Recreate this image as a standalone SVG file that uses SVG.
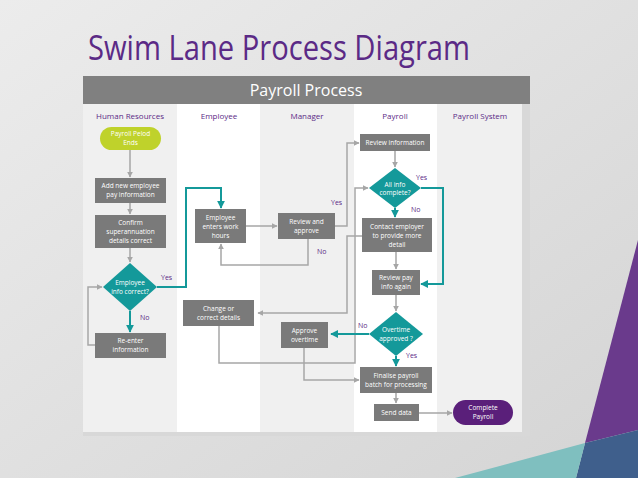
<svg xmlns="http://www.w3.org/2000/svg" width="638" height="478" viewBox="0 0 638 478">
<defs>
<linearGradient id="bg" x1="0" y1="0" x2="1" y2="1"><stop offset="0" stop-color="#ececec"/><stop offset="1" stop-color="#d4d4d4"/></linearGradient>
<marker id="ag" viewBox="0 0 10 10" refX="9" refY="5" markerWidth="4" markerHeight="4" orient="auto"><path d="M0,0L10,5L0,10z" fill="#a6a6a6"/></marker>
<marker id="at" viewBox="0 0 10 10" refX="9" refY="5" markerWidth="4" markerHeight="4" orient="auto"><path d="M0,0L10,5L0,10z" fill="#14999a"/></marker>
</defs>
<style>
.b{fill:#7a7a7a}
.d{fill:#14999a}
.t{font-family:"Open Sans","Liberation Sans",sans-serif;font-size:6.5px;fill:#fff;text-anchor:middle}
.lh{font-family:"Open Sans","Liberation Sans",sans-serif;font-size:8px;fill:#5b2a86;text-anchor:middle}
.lb{font-family:"Open Sans","Liberation Sans",sans-serif;font-size:7px;fill:#5b2a86}
.g{fill:none;stroke:#a6a6a6;stroke-width:1.5;marker-end:url(#ag)}
.c{fill:none;stroke:#14999a;stroke-width:2;marker-end:url(#at)}
</style>
<rect width="638" height="478" fill="url(#bg)"/>
<polygon points="638,240 585,443 638,430" fill="#6a3a8c"/>
<polygon points="585,443 638,430 638,478 576,478" fill="#3f5f8c"/>
<polygon points="455,478 585,443 576,478" fill="#7fbfbf"/>
<text x="88" y="60" font-family="Open Sans, Liberation Sans, sans-serif" font-size="34" fill="#5b2a86" textLength="382" lengthAdjust="spacingAndGlyphs">Swim Lane Process Diagram</text>
<rect x="83" y="76" width="447" height="360" fill="#d8d8d8"/>
<rect x="83" y="76" width="447" height="28" fill="#808080"/>
<text x="306" y="96" font-family="Open Sans, Liberation Sans, sans-serif" font-size="16" fill="#fff" text-anchor="middle">Payroll Process</text>
<rect x="83" y="104" width="94" height="328" fill="#f0f0f0"/>
<rect x="177" y="104" width="83" height="328" fill="#ffffff"/>
<rect x="260" y="104" width="94" height="328" fill="#f0f0f0"/>
<rect x="354" y="104" width="83" height="328" fill="#ffffff"/>
<rect x="437" y="104" width="85" height="328" fill="#f0f0f0"/>
<g id="lanes">
<text class="lh" x="130" y="119">Human Resources</text>
<text class="lh" x="219" y="119">Employee</text>
<text class="lh" x="307" y="119">Manager</text>
<text class="lh" x="395" y="119">Payroll</text>
<text class="lh" x="480" y="119">Payroll System</text>
</g>
<g id="connectors">
<path class="g" d="M130,150V177"/>
<path class="g" d="M130,203V214"/>
<path class="g" d="M130,248V262"/>
<path class="c" d="M157,287H186V188H221V208"/>
<path class="c" d="M130,311V332"/>
<path class="g" d="M95,345H88V287H102"/>
<path class="g" d="M246,226H277"/>
<path class="g" d="M335,226H347V143H359"/>
<path class="g" d="M308,239V265H221V244"/>
<path class="g" d="M362,236H347V313H258"/>
<path class="g" d="M219,326V363H355V188H368"/>
<path class="g" d="M395,151V167"/>
<path class="c" d="M395,208V217"/>
<path class="c" d="M421,188H443V284H421"/>
<path class="g" d="M396,252V269"/>
<path class="g" d="M396,295V311"/>
<path class="c" d="M369,334H331"/>
<path class="c" d="M396,356V366"/>
<path class="g" d="M304,348V380H359"/>
<path class="g" d="M396,393V403"/>
<path class="g" d="M419,413H452"/>
<text class="lb" x="161" y="280">Yes</text>
<text class="lb" x="140" y="320">No</text>
<text class="lb" x="331" y="205">Yes</text>
<text class="lb" x="317" y="254">No</text>
<text class="lb" x="416" y="180">Yes</text>
<text class="lb" x="411" y="212">No</text>
<text class="lb" x="358" y="328">No</text>
<text class="lb" x="406" y="358">Yes</text>
</g>
<g id="n1"><rect x="100" y="127" width="61" height="23" rx="11.5" fill="#bfd22b"/><text class="t" x="130.5" y="136">Payroll Pelod</text><text class="t" x="130.5" y="145">Ends</text></g>
<g id="n2"><rect class="b" x="95" y="178" width="71" height="25"/><text class="t" x="130.5" y="188">Add new employee</text><text class="t" x="130.5" y="197">pay information</text></g>
<g id="n3"><rect class="b" x="95" y="215" width="71" height="33"/><text class="t" x="130.5" y="225">Confirm</text><text class="t" x="130.5" y="234">superannuation</text><text class="t" x="130.5" y="243">details correct</text></g>
<g id="n4"><polygon class="d" points="130,263 157,287 130,311 103,287"/><text class="t" x="130" y="285">Employee</text><text class="t" x="130" y="294">info correct?</text></g>
<g id="n5"><rect class="b" x="95" y="333" width="71" height="25"/><text class="t" x="130.5" y="343">Re-enter</text><text class="t" x="130.5" y="352">information</text></g>
<g id="n6"><rect class="b" x="195" y="209" width="51" height="34"/><text class="t" x="220.5" y="220">Employee</text><text class="t" x="220.5" y="229">enters work</text><text class="t" x="220.5" y="238">hours</text></g>
<g id="n7"><rect class="b" x="278" y="213" width="57" height="26"/><text class="t" x="306.5" y="224">Review and</text><text class="t" x="306.5" y="233">approve</text></g>
<g id="n8"><rect class="b" x="360" y="134" width="70" height="17"/><text class="t" x="395" y="145">Review information</text></g>
<g id="n9"><polygon class="d" points="395,168 421,188 395,208 369,188"/><text class="t" x="395" y="187">All info</text><text class="t" x="395" y="195">complete?</text></g>
<g id="n10"><rect class="b" x="362" y="218" width="70" height="34"/><text class="t" x="397" y="229">Contact employer</text><text class="t" x="397" y="238">to provide more</text><text class="t" x="397" y="247">detail</text></g>
<g id="n11"><rect class="b" x="372" y="270" width="48" height="25"/><text class="t" x="396" y="280">Review pay</text><text class="t" x="396" y="289">info again</text></g>
<g id="n12"><polygon class="d" points="396,312 423,334 396,356 369,334"/><text class="t" x="396" y="332">Overtime</text><text class="t" x="396" y="341">approved ?</text></g>
<g id="n13"><rect class="b" x="183" y="300" width="71" height="26"/><text class="t" x="218.5" y="311">Change or</text><text class="t" x="218.5" y="320">correct details</text></g>
<g id="n14"><rect class="b" x="281" y="322" width="47" height="26"/><text class="t" x="304.5" y="333">Approve</text><text class="t" x="304.5" y="342">overtime</text></g>
<g id="n15"><rect class="b" x="360" y="367" width="72" height="26"/><text class="t" x="396" y="378">Finalise payroll</text><text class="t" x="396" y="387">batch for processing</text></g>
<g id="n16"><rect class="b" x="374" y="404" width="45" height="17"/><text class="t" x="396.5" y="415">Send data</text></g>
<g id="n17"><rect x="453" y="400" width="60" height="25" rx="12.5" fill="#5a1f7a"/><text class="t" x="483" y="410">Complete</text><text class="t" x="483" y="419">Payroll</text></g>
</svg>
